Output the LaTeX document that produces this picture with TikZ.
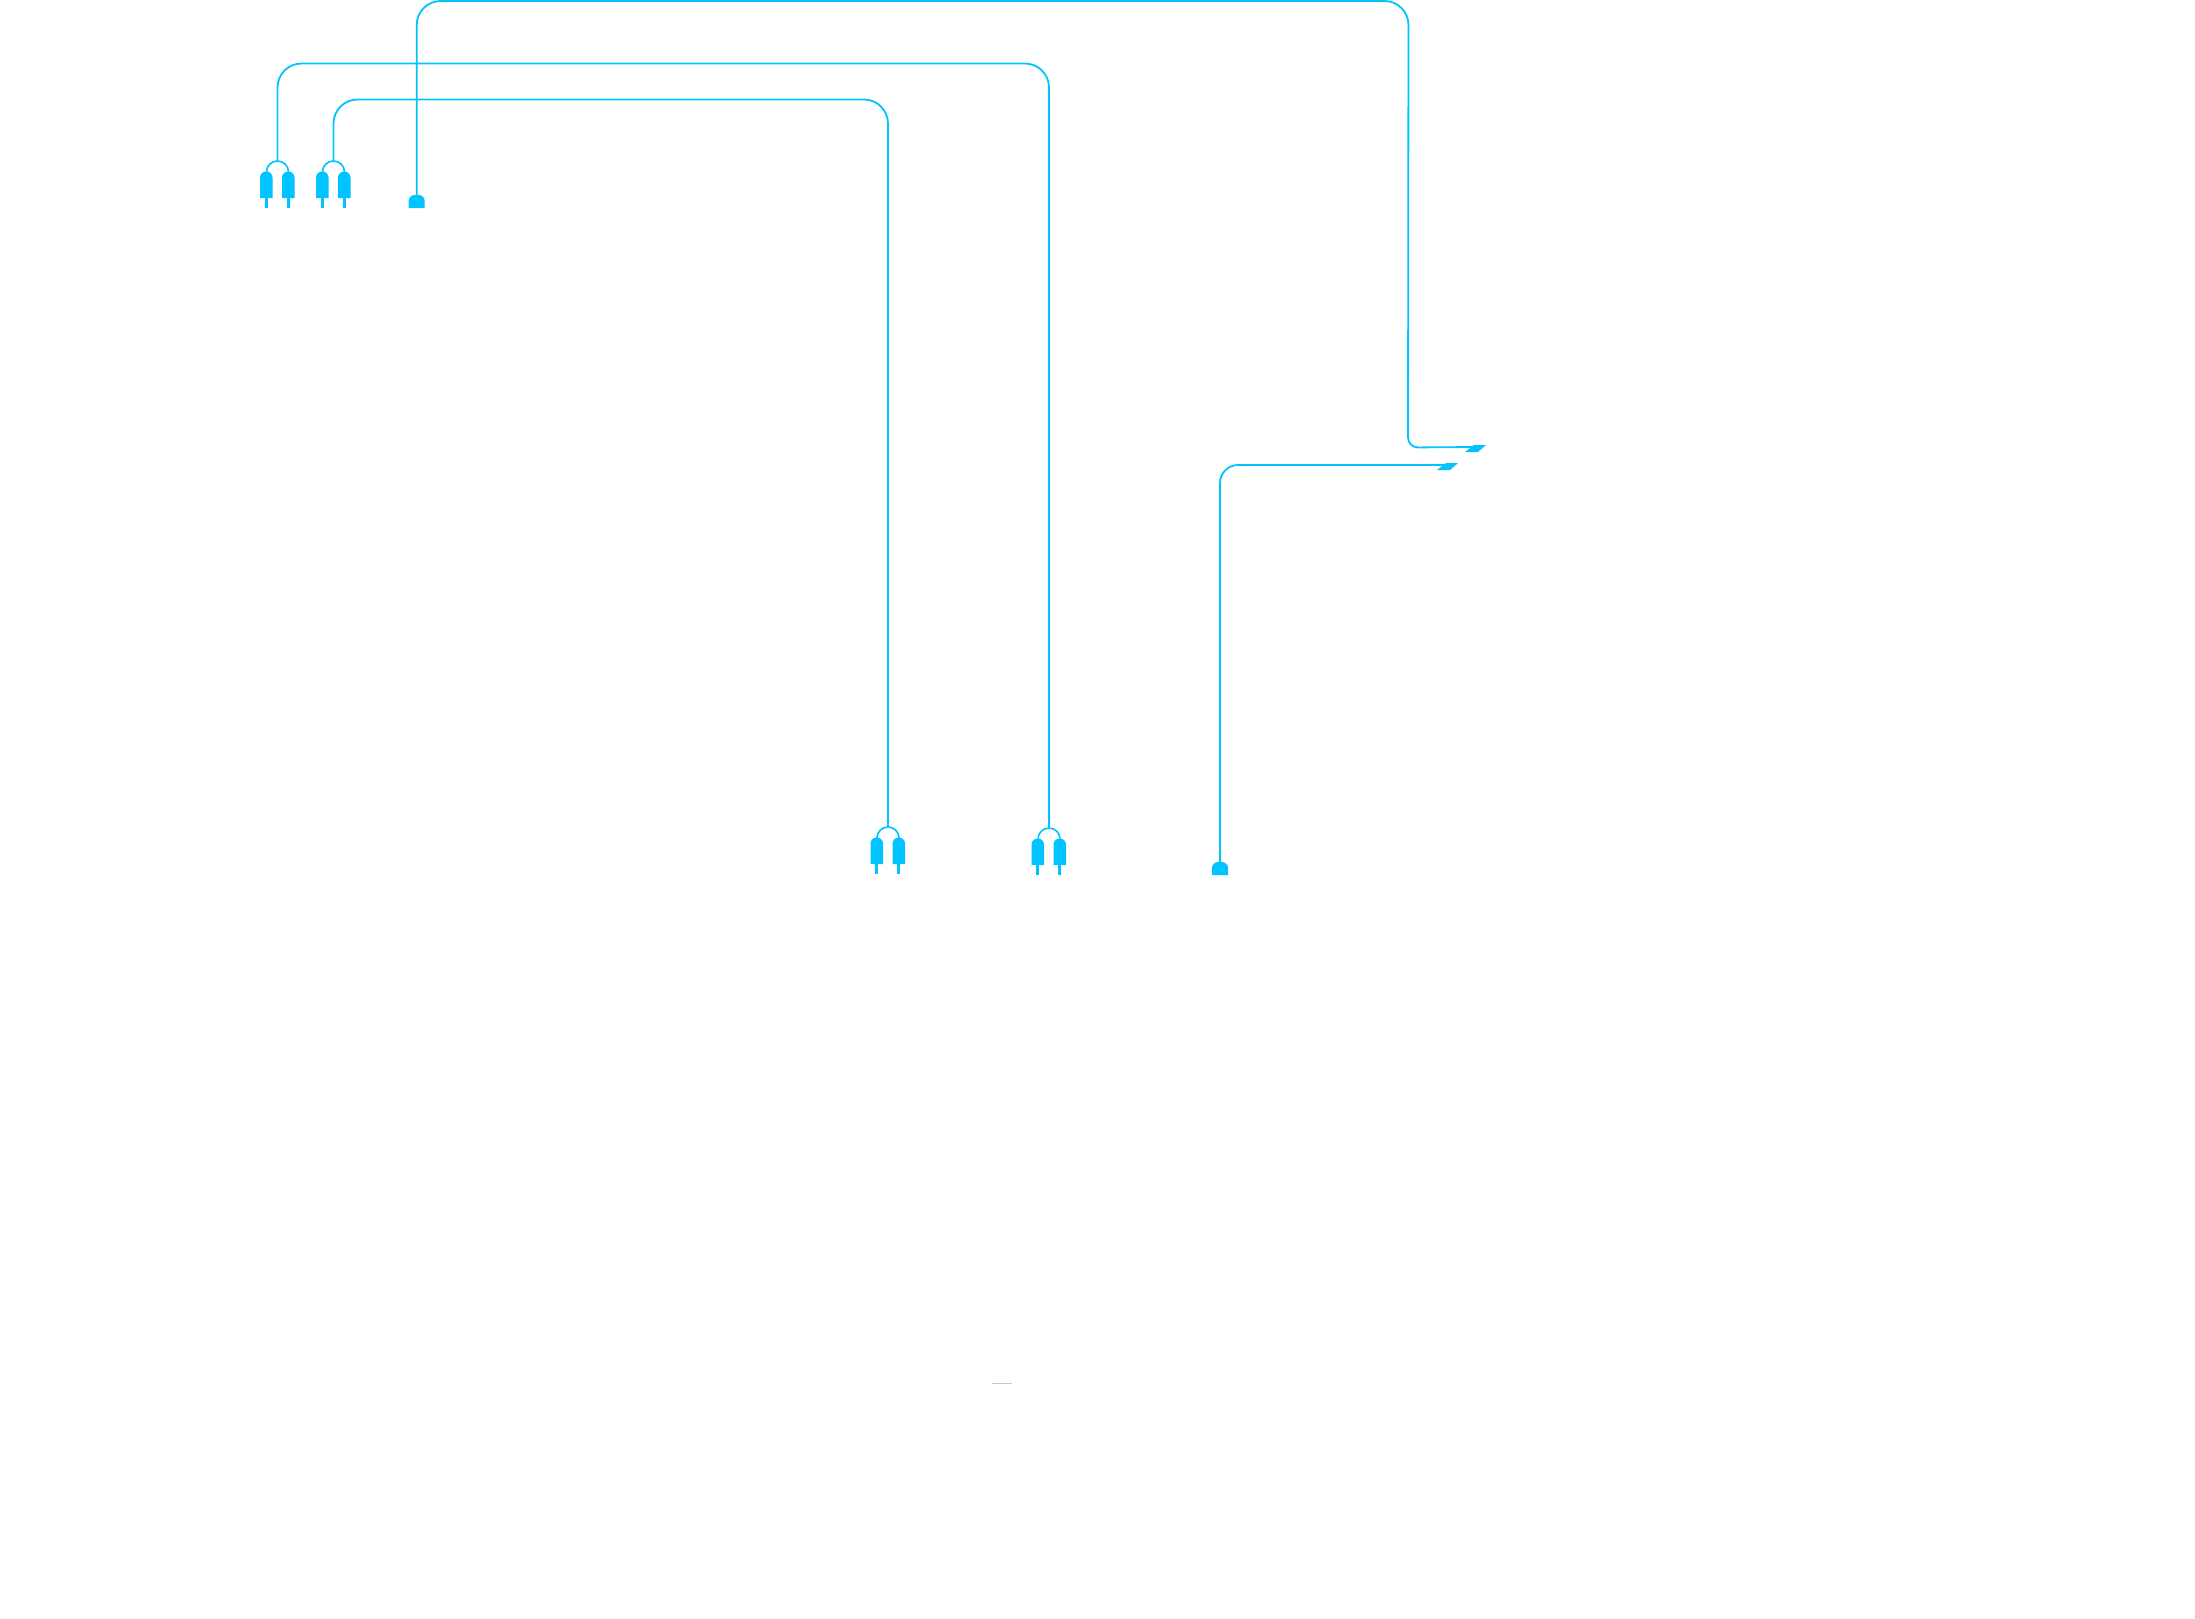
\documentclass[tikz,border=0pt]{standalone}
\usepackage{tikz}
\usetikzlibrary{calc}
\definecolor{cablecol}{RGB}{0,195,255}
\tikzset{wire/.style={draw=cablecol,line width=0.9pt,rounded corners=12pt},
         thinwire/.style={draw=cablecol,line width=0.8pt},
         body/.style={fill=cablecol},
         pin/.style={draw=cablecol,line width=1.4pt},
         tick/.style={draw=black!22,line width=0.4pt},
         every pic/.style={yscale=-1},
         pics/rcapair/.style={code={
            \coordinate (-top) at (0,0);
            \draw[thinwire] (-11,11) arc[start angle=180,end angle=360,radius=11];
            \foreach \px in {-17.5,4.5}{
              \fill[body] (\px,37) [rounded corners=3pt] -- (\px,10.5) -- (\px+12.5,10.5) [sharp corners] -- (\px+12.5,37) -- cycle;
              \draw[pin] (\px+6.25,37) -- (\px+6.25,47);
            }
         }},
         pics/minijack/.style={code={
            \coordinate (-top) at (0,0);
            \fill[body] (-8,13) -- (-8,6) [rounded corners=3pt] -- (-8,0) -- (8,0) [sharp corners] -- (8,13) -- cycle;
         }},
         pics/flatend/.style={code={
            \coordinate (-tip) at (0,0);
            \fill[body] (-9,5) -- (0,-2) -- (12,-2) -- (4,5) -- cycle;
         }}
}
\begin{document}
\begin{tikzpicture}[x=0.5pt,y=0.5pt,yscale=-1,xscale=1]
\useasboundingbox (0,0) rectangle (2195,1618);

% upper plugs
\pic (pairA) at (277.5,161) {rcapair};
\pic (pairB) at (333.5,161) {rcapair};
\pic (jackA) at (416.7,195) {minijack};

% lower plugs
\pic (pairC) at (888,827) {rcapair};
\pic (pairD) at (1049,828) {rcapair};
\pic (jackB) at (1220,862) {minijack};

% flat ends
\pic (flatA) at (1474,447) {flatend};
\pic (flatB) at (1446,465) {flatend};

% cables
\draw[wire] (pairA-top) -- (pairA-top |- 0,63.5) -- (pairD-top |- 0,63.5) -- (pairD-top);
\draw[wire] (pairB-top) -- (pairB-top |- 0,99.5) -- (pairC-top |- 0,99.5) -- (pairC-top);
\draw[wire] (jackA-top) -- (jackA-top |- 0,1) -- (1408.5,1) [rounded corners=5pt] -- (1408,447.5) -- (flatA-tip);
\draw[wire,rounded corners=9pt] (jackB-top) -- (jackB-top |- flatB-tip) -- (flatB-tip);

% faint mark
\coordinate (markL) at (992,1383);
\coordinate (markR) at (1012,1383);
\draw[tick] (markL) -- (markR);

\end{tikzpicture}
\end{document}
